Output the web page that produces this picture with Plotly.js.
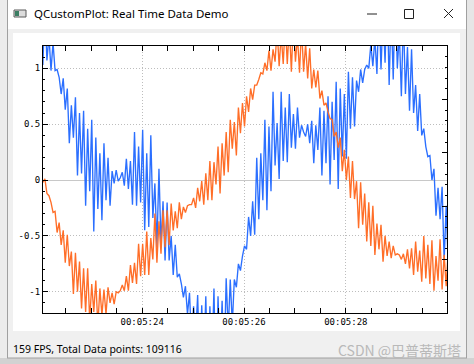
<!DOCTYPE html>
<html><head><meta charset="utf-8">
<script src="https://cdn.plot.ly/plotly-3.0.1.min.js"></script>
<style>html,body{margin:0;padding:0;background:#f0f0f0;overflow:hidden}#chart{width:474px;height:364px}</style>
</head><body><div id="chart"></div>
<script>
// ---- data ----
const sampleStartMs = 322050;   // 00:05:22.050
const sampleStepMs = 40;
const blueValues = [
 1.03,1.55,1.07,1.29,0.98, 1.23,0.98,0.99,0.92,0.77, 0.91,0.63,0.82,0.33,0.67, 0.38,0.74,0.04,0.60,0.06,
 0.62,-0.23,0.46,-0.10,0.54, -0.46,0.38,-0.26,0.24,-0.36, 0.33,-0.18,0.20,-0.23,0.08, -0.03,0.09,-0.01,0.02,0.07,
 -0.05,0.19,-0.08,0.17,-0.22, 0.43,-0.23,0.30,-0.20,0.45, -0.45,0.24,-0.42,0.40,-0.34, -0.03,-0.60,0.10,-0.58,-0.19,
 -0.72,-0.20,-0.72,-0.50,-0.85, -0.58,-0.87,-0.84,-0.93,-1.05, -0.95,-1.20,-1.01,-1.46,-1.13, -1.40,-1.03,-1.69,-1.12,-1.63,
 -1.04,-1.85,-1.13,-1.65,-0.97, -1.94,-1.04,-1.63,-1.08,-1.65, -0.88,-1.35,-0.89,-1.29,-0.89, -0.96,-0.75,-0.81,-0.68,-0.59,
 -0.62,-0.33,-0.50,-0.19,-0.49, 0.20,-0.35,0.24,-0.18,0.54, -0.27,0.48,-0.10,0.79,0.13, 0.51,0.01,0.79,0.17,0.65,
 0.16,0.77,0.29,0.59,0.28, 0.65,0.38,0.49,0.43,0.39, 0.50,0.33,0.53,0.15,0.49, 0.27,0.65,0.04,0.62,0.15,
 0.75,-0.04,0.70,0.18,0.88, -0.08,0.82,0.21,0.77,0.19, 0.97,0.46,0.92,0.48,0.89, 0.79,0.99,0.87,0.99,1.03,
 1.00,1.21,1.02,1.27,0.95, 1.57,0.99,1.51,1.05,1.70, 0.85,1.54,0.90,1.73,1.00, 1.32,0.75,1.47,0.77,1.19,
 0.62,1.17,0.60,0.85,0.44, 0.77,0.40,0.46,0.30,0.21, 0.22,0.00,0.10,-0.32,-0.07, -0.35,-0.06,-0.72,-0.23,-0.76
];
const orangeValues = [
 -0.02,0.01,-0.12,-0.14,-0.20, -0.29,-0.28,-0.47,-0.38,-0.58, -0.45,-0.74,-0.49,-0.77,-0.64, -1.02,-0.65,-1.00,-0.73,-1.15,
 -0.79,-1.18,-0.79,-1.26,-0.93, -1.18,-0.90,-1.30,-0.97,-1.21, -0.98,-1.20,-0.96,-1.10,-1.01, -1.11,-1.00,-1.01,-0.99,-0.94,
 -0.99,-0.86,-0.99,-0.76,-0.92, -0.74,-0.93,-0.57,-0.86,-0.57, -0.85,-0.46,-0.85,-0.52,-0.71, -0.30,-0.74,-0.37,-0.66,-0.27,
 -0.60,-0.27,-0.58,-0.21,-0.45, -0.28,-0.43,-0.20,-0.35,-0.24, -0.29,-0.23,-0.22,-0.22,-0.16, -0.25,-0.07,-0.19,-0.01,-0.22,
 0.06,-0.18,0.17,-0.18,0.16, -0.04,0.30,-0.12,0.33,0.04, 0.43,0.07,0.54,0.28,0.52, 0.22,0.65,0.42,0.69,0.48,
 0.75,0.61,0.82,0.72,0.85, 0.85,0.90,0.96,0.95,1.05, 0.98,1.16,0.98,1.17,1.06, 1.35,1.02,1.30,1.04,1.40,
 1.04,1.39,0.97,1.43,1.06, 1.29,0.96,1.37,0.97,1.22, 0.91,1.18,0.82,0.99,0.83, 0.98,0.73,0.80,0.67,0.69,
 0.61,0.55,0.54,0.39,0.43, 0.29,0.38,0.08,0.27,0.00, 0.21,-0.16,0.17,-0.17,-0.01, -0.43,-0.02,-0.40,-0.12,-0.55,
 -0.20,-0.59,-0.23,-0.67,-0.39, -0.62,-0.40,-0.73,-0.50,-0.68, -0.55,-0.70,-0.59,-0.67,-0.66, -0.67,-0.71,-0.66,-0.75,-0.62,
 -0.79,-0.61,-0.85,-0.55,-0.82, -0.63,-0.91,-0.50,-0.88,-0.58, -0.93,-0.54,-0.99,-0.68,-0.90, -0.53,-0.98,-0.67,-0.95,-0.63
];
const yTickVals = [-1, -0.5, 0, 0.5, 1];
const yTickText = ['-1', '-0.5', '0', '0.5', '1'];
const windowTitle = 'QCustomPlot: Real Time Data Demo';
const statusText = '159 FPS, Total Data points: 109116';
const watermarkText = 'CSDN @巴普蒂斯塔';

// sample times (ms) of the recorded points
const keys = blueValues.map((_, i) => sampleStartMs + i * sampleStepMs);

// ---- layout helpers (pixel -> paper) ----
const W = 474, H = 364, ML = 43, MR = 27, MT = 46, MB = 51;
const PW = W - ML - MR, PH = H - MT - MB;
const px = x => (x - ML) / PW;
const py = y => (H - MB - y) / PH;
function rect(x0, y0, x1, y1, fill, line, layer) {
  return {type:'rect', xref:'paper', yref:'paper', x0:px(x0), x1:px(x1), y0:py(y1), y1:py(y0),
          fillcolor:fill, line:{width: line ? 1 : 0, color: line || 'rgba(0,0,0,0)'}, layer: layer || 'below'};
}
function seg(x0, y0, x1, y1, color, w) {
  return {type:'line', xref:'paper', yref:'paper', x0:px(x0), x1:px(x1), y0:py(y0), y1:py(y1),
          line:{color:color, width:w || 1}, layer:'above'};
}

const shapes = [
  rect(0, 0, 7, 364, '#ececec'),
  rect(467, 0, 474, 364, '#e6e6e6'),
  rect(0, 358, 474, 364, '#d2d2d2'),
  rect(7, 0, 467, 29, '#ffffff'),
  rect(13, 33, 460, 331, '#ffffff'),
  seg(7.5, 0, 7.5, 358, '#a0a0a0'),
  seg(466.5, 0, 466.5, 358, '#a0a0a0'),
  seg(7, 358, 467, 358, '#a0a0a0'),
  // window icon
  rect(14, 10, 26, 17, '#dcdcdc', '#5a5a5a', 'above'),
  rect(15, 11, 19, 16, '#3b7d62', null, 'above'),
  // caption buttons
  seg(367, 14, 377, 14, '#222'),
  rect(404.5, 9.5, 413.5, 18.5, 'rgba(0,0,0,0)', '#222', 'above'),
  seg(444, 9, 453, 18, '#222'),
  seg(453, 9, 444, 18, '#222')
];

const annotations = [
  {text: windowTitle, x: px(32), y: py(14), xref:'paper', yref:'paper', xanchor:'left', yanchor:'middle',
   showarrow:false, font:{family:'Noto Sans', size:11.5, color:'#000'}},
  {text: statusText, x: px(11), y: py(349), xref:'paper', yref:'paper', xanchor:'left', yanchor:'middle',
   showarrow:false, font:{family:'Noto Sans', size:10.5, color:'#000'}},
  {text: watermarkText, x: px(463), y: py(350), xref:'paper', yref:'paper', xanchor:'right', yanchor:'middle',
   showarrow:false, font:{family:'Noto Sans CJK SC', size:14, color:'#b9b9b9'}}
];

const tickFont = {family:'DejaVu Sans Mono', size:9, color:'#000'};
const gridDash = '1px,2px';

const traces = [
  {type:'scatter', mode:'lines', x: keys, y: blueValues, line:{color:'#2b6fff', width:1.35, simplify:false}, hoverinfo:'skip'},
  {type:'scatter', mode:'lines', x: keys, y: orangeValues, line:{color:'#ff6e28', width:1.35, simplify:false}, hoverinfo:'skip'},
  {type:'scatter', mode:'lines', x: [], y: [], yaxis:'y2', hoverinfo:'skip', showlegend:false}
];

const layout = {
  width: W, height: H, autosize:false,
  margin:{l:ML, r:MR, t:MT, b:MB, pad:0},
  paper_bgcolor:'#f0f0f0', plot_bgcolor:'#ffffff',
  showlegend:false,
  font:{family:'DejaVu Sans Mono', size:9, color:'#000'},
  xaxis:{type:'date', range:[sampleStartMs + 3, sampleStartMs + 7936], tickformat:'%H:%M:%S',
         tick0:'1970-01-01', dtick:2000, ticks:'inside', ticklen:5, tickwidth:1, tickcolor:'#000',
         showline:true, linecolor:'#000', linewidth:1, mirror:'allticks',
         showgrid:true, gridcolor:'#bdbdbd', griddash:gridDash, gridwidth:1, zeroline:false,
         tickfont:tickFont, fixedrange:true,
         minor:{dtick:500, ticks:'inside', ticklen:2, tickcolor:'#000', showgrid:false}},
  yaxis:{range:[-1.19, 1.2], tickmode:'array', tickvals:yTickVals, ticktext:yTickText,
         ticks:'inside', ticklen:5, tickwidth:1, tickcolor:'#000',
         showline:true, linecolor:'#000', linewidth:1, mirror:false,
         showgrid:true, gridcolor:'#bdbdbd', griddash:gridDash, gridwidth:1,
         zeroline:true, zerolinecolor:'#c8c8c8', zerolinewidth:1,
         tickfont:tickFont, fixedrange:true,
         minor:{tickmode:'linear', tick0:0, dtick:0.1, ticks:'inside', ticklen:2, tickcolor:'#000', showgrid:false}},
  yaxis2:{overlaying:'y', side:'right', range:[0, 5], tick0:0, dtick:1,
          ticks:'inside', ticklen:5, tickcolor:'#000', showticklabels:false,
          showline:true, linecolor:'#000', linewidth:1, showgrid:false, zeroline:false, fixedrange:true,
          minor:{dtick:0.2, ticks:'inside', ticklen:2, tickcolor:'#000', showgrid:false}},
  shapes: shapes,
  annotations: annotations
};

Plotly.newPlot('chart', traces, layout, {staticPlot:true, displayModeBar:false});
</script>
</body></html>
